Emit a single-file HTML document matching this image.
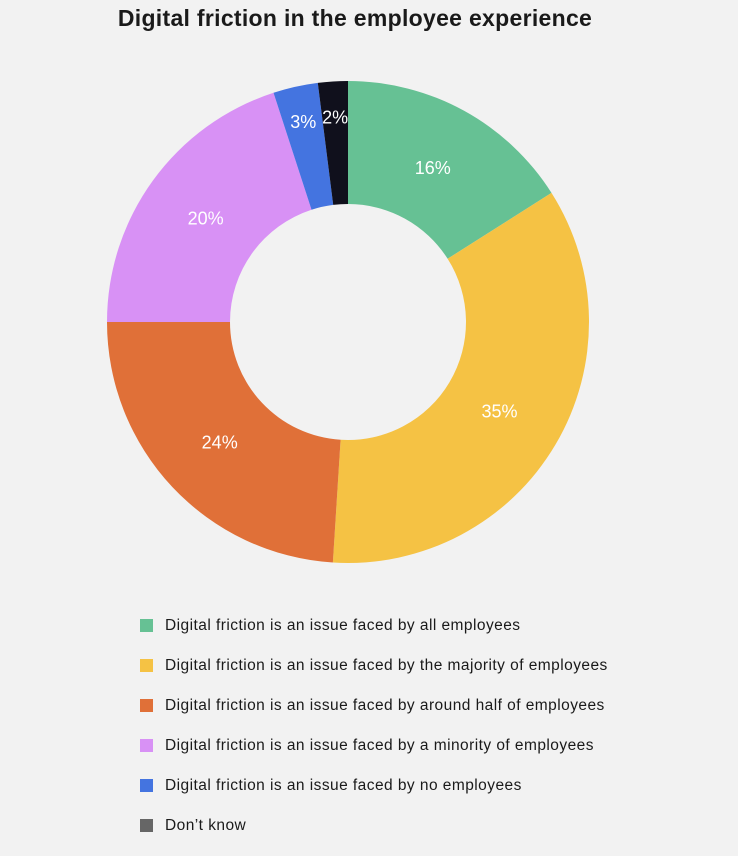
<!DOCTYPE html>
<html><head><meta charset="utf-8">
<style>
html,body{margin:0;padding:0;background:#f2f2f2;width:738px;height:856px;overflow:hidden;font-family:"Liberation Sans",sans-serif;}
#title{position:absolute;left:0;width:710px;top:5px;text-align:center;font-size:23px;font-weight:bold;color:#1a1a1a;letter-spacing:0.3px;}
.leg{position:absolute;left:140px;height:20px;font-size:15.5px;color:#1a1a1a;}
.leg span.sw{position:absolute;left:0;top:3px;width:13px;height:13px;}
.leg span.tx{position:absolute;left:25px;top:0;white-space:nowrap;line-height:20px;letter-spacing:0.45px;}
</style></head><body>
<div id="title">Digital friction in the employee experience</div>
<svg id="chart" width="738" height="600" style="position:absolute;left:0;top:0"></svg>
<div id="legend"></div>
<script>
const categories = ["Digital friction is an issue faced by all employees","Digital friction is an issue faced by the majority of employees","Digital friction is an issue faced by around half of employees","Digital friction is an issue faced by a minority of employees","Digital friction is an issue faced by no employees","Don’t know"];
const values = [16,35,24,20,3,2];
const labels = ["16%","35%","24%","20%","3%","2%"];
const colors = ["#66c194","#f5c244","#e07038","#d891f5","#4474e0","#10101c"];
const legendColors = ["#66c194","#f5c244","#e07038","#d891f5","#4474e0","#666666"];
const names = ["all","majority","around-half","minority","none","dont-know"];

const svg = document.getElementById('chart');
const NS = "http://www.w3.org/2000/svg";
const cx = 348, cy = 322, R = 241, r = 118;
const total = values.reduce((a,b)=>a+b,0);
function pt(ang, rad){ return [cx + rad*Math.sin(ang), cy - rad*Math.cos(ang)]; }
let acc = 0;
values.forEach((v,i)=>{
  const a0 = acc/total*2*Math.PI; acc += v; const a1 = acc/total*2*Math.PI;
  const large = (a1-a0) > Math.PI ? 1 : 0;
  const p0 = pt(a0,R), p1 = pt(a1,R), q1 = pt(a1,r), q0 = pt(a0,r);
  const path = document.createElementNS(NS,'path');
  path.setAttribute('d',`M${p0[0]},${p0[1]} A${R},${R} 0 ${large} 1 ${p1[0]},${p1[1]} L${q1[0]},${q1[1]} A${r},${r} 0 ${large} 0 ${q0[0]},${q0[1]} Z`);
  path.setAttribute('fill',colors[i]);
  
  
  svg.appendChild(path);
  const am = (a0+a1)/2;
  const lr = v >= 10 ? 176 : 205;
  const lp = pt(am, lr);
  const t = document.createElementNS(NS,'text');
  t.setAttribute('x',lp[0]); t.setAttribute('y',lp[1]+6);
  t.setAttribute('text-anchor','middle');
  t.setAttribute('fill','#ffffff');
  t.setAttribute('font-size','18');
  t.setAttribute('font-family','Liberation Sans, sans-serif');
  t.textContent = labels[i];
  
  
  svg.appendChild(t);
});
const leg = document.getElementById('legend');
categories.forEach((c,i)=>{
  const d = document.createElement('div');
  d.className='leg';
  d.style.top = (616 + i*40) + 'px';
  
  
  const s = document.createElement('span'); s.className='sw'; s.style.background=legendColors[i];
  
  
  const tx = document.createElement('span'); tx.className='tx'; tx.textContent=c;
  
  
  d.appendChild(s); d.appendChild(tx); leg.appendChild(d);
});
</script>
</body></html>
